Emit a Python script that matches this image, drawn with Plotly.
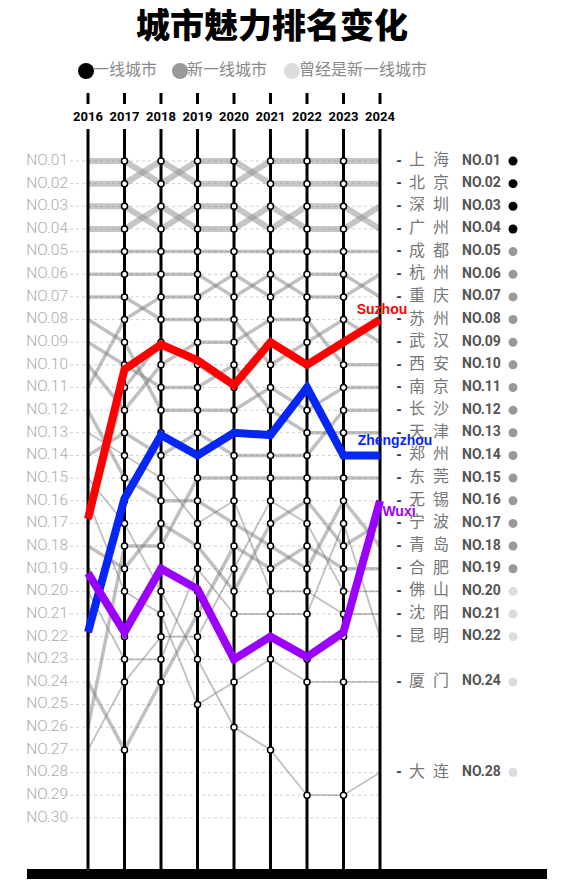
import plotly.graph_objects as go

# ranking by year, index 0 = NO.01 (None = empty place)
years = [2016, 2017, 2018, 2019, 2020, 2021, 2022, 2023, 2024]

r2016 = ["北京", "上海", "广州", "深圳", "成都", "杭州", "武汉", "南京", "天津", "西安",
         "重庆", "青岛", "沈阳", "长沙", "大连", "厦门", "苏州", "宁波", "无锡", "昆明",
         None, "郑州", None, "合肥", None, "东莞", "佛山"]
r2017 = ["北京", "上海", "广州", "深圳", "成都", "杭州", "武汉", "重庆", "南京", "天津",
         "苏州", "西安", "长沙", "沈阳", "青岛", "郑州", "大连", "东莞", "宁波", "厦门",
         None, "无锡", "昆明", "佛山", None, None, "合肥"]
r2018 = ["上海", "北京", "深圳", "广州", "成都", "杭州", "重庆", "武汉", "苏州", "西安",
         "天津", "南京", "郑州", "长沙", "沈阳", "青岛", "宁波", "东莞", "无锡", "大连",
         "厦门", "佛山", "昆明", "合肥"]
r2019 = ["北京", "上海", "广州", "深圳", "成都", "杭州", "重庆", "武汉", "西安", "苏州",
         "天津", "南京", "长沙", "郑州", "东莞", "青岛", "沈阳", "宁波", "昆明", "无锡",
         "合肥", "佛山", "大连", None, "厦门"]
r2020 = ["北京", "上海", "广州", "深圳", "成都", "重庆", "杭州", "武汉", "西安", "天津",
         "苏州", "南京", "郑州", "长沙", "东莞", "沈阳", "青岛", "合肥", "佛山", "宁波",
         "昆明", None, "无锡", "厦门", None, "大连"]
r2021 = ["上海", "北京", "深圳", "广州", "成都", "杭州", "重庆", "西安", "苏州", "武汉",
         "南京", "天津", "郑州", "长沙", "东莞", "佛山", "宁波", "青岛", "合肥", "沈阳",
         "昆明", "无锡", "厦门", None, None, None, "大连"]
r2022 = ["上海", "北京", "广州", "深圳", "成都", "重庆", "杭州", "西安", "武汉", "苏州",
         "郑州", "南京", "天津", "长沙", "东莞", "宁波", "佛山", "合肥", "青岛", "沈阳",
         "昆明", None, "无锡", "厦门", None, None, None, None, "大连"]
r2023 = ["上海", "北京", "广州", "深圳", "成都", "重庆", "杭州", "武汉", "苏州", "西安",
         "南京", "长沙", "天津", "郑州", "东莞", "青岛", "昆明", "宁波", "合肥", "佛山",
         "沈阳", "无锡", None, "厦门", None, None, None, None, "大连"]
r2024 = ["上海", "北京", "深圳", "广州", "成都", "杭州", "重庆", "苏州", "武汉", "西安",
         "南京", "长沙", "天津", "郑州", "东莞", "无锡", "宁波", "青岛", "合肥", "佛山",
         "沈阳", "昆明", None, "厦门", None, None, None, "大连"]
rankings = [r2016, r2017, r2018, r2019, r2020, r2021, r2022, r2023, r2024]

# hand drawn highlight lines
suzhou_hl = [16.8, 10.2, 9.1, 9.8, 10.9, 9.0, 10.0, 9.0, 8.0]
zhengzhou_hl = [21.8, 15.9, 13.1, 14.0, 13.0, 13.1, 11.0, 14.0, 14.0]
wuxi_hl = [19.2, 21.8, 19.0, 19.9, 23.0, 22.0, 22.9, 21.8, 16.0]

legend_names = ["一线城市", "新一线城市", "曾经是新一线城市"]
tier_colors = ["#000000", "#999999", "#dcdcdc"]
n_ranks = 30

# pixel helpers (figure = 562 x 896, plot area is the whole figure)
W, H = 562, 896
DX, DY = 36.5, 22.65
def px_x(p):
    return 2016 + (p - 88) / DX
def px_y(p):
    return 1 + (p - 161) / DY

def tier(rank):
    if rank <= 4:
        return 0
    if rank <= 19:
        return 1
    return 2

# city trajectories
cities = [c for c in r2024 if c]
paths = {c: [] for c in cities}
for yr, lst in zip(years, rankings):
    for i, c in enumerate(lst):
        if c in paths:
            paths[c].append((yr, i + 1))

fig = go.Figure()

# dotted grid lines
gx, gy = [], []
for r in range(1, n_ranks + 1):
    gx += [px_x(70), 2024, None]
    gy += [r, r, None]
fig.add_trace(go.Scatter(x=gx, y=gy, mode="lines",
                         line=dict(color="#cfcfcf", width=1, dash="dot"), hoverinfo="skip"))

# gray city lines
line_style = {0: (6, "rgba(150,150,150,0.55)"),
              1: (3.5, "rgba(115,115,115,0.45)"),
              2: (1.8, "rgba(115,115,115,0.45)")}
for c in cities:
    t = tier(r2024.index(c) + 1)
    w, col = line_style[t]
    fig.add_trace(go.Scatter(x=[p[0] for p in paths[c]], y=[p[1] for p in paths[c]],
                             mode="lines", line=dict(color=col, width=w), name=c))

# year vertical lines
vx, vy = [], []
for yr in years:
    vx += [yr, yr, None, yr, yr, None]
    vy += [px_y(93), px_y(104), None, px_y(129), px_y(872), None]
fig.add_trace(go.Scatter(x=vx, y=vy, mode="lines", line=dict(color="black", width=3),
                         hoverinfo="skip"))

# node markers
nx, ny = [], []
for yr, lst in zip(years[1:-1], rankings[1:-1]):
    for i, c in enumerate(lst):
        if c:
            nx.append(yr)
            ny.append(i + 1)
fig.add_trace(go.Scatter(x=nx, y=ny, mode="markers",
                         marker=dict(size=6, color="white", line=dict(color="black", width=1.5))))

# highlight lines
for vals, col in [(suzhou_hl, "#ff0000"), (zhengzhou_hl, "#0526f5"), (wuxi_hl, "#9b00ff")]:
    fig.add_trace(go.Scatter(x=years, y=vals, mode="lines",
                             line=dict(color=col, width=8)))

fig.add_trace(go.Scatter(x=[px_x(382), px_x(395), px_x(399)], y=[px_y(310), px_y(441), px_y(512)],
                         mode="text", text=["Suzhou", "Zhengzhou", "Wuxi"],
                         textfont=dict(family="Liberation Sans", size=14,
                                       color=["#ff0000", "#0526f5", "#9b00ff"], weight="bold")))

# year labels
fig.add_trace(go.Scatter(x=years, y=[px_y(118)] * len(years), mode="text",
                         text=[str(y) for y in years],
                         textfont=dict(family="Roboto", size=13, color="black", weight="bold")))

# left rank labels
ranks = list(range(1, n_ranks + 1))
fig.add_trace(go.Scatter(x=[px_x(68)] * n_ranks, y=ranks, mode="text",
                         text=["NO.%02d" % r for r in ranks], textposition="middle left",
                         textfont=dict(family="Roboto", size=15.5, color="#ababab", weight=300)))

# right labels for 2024
rr = [i + 1 for i, c in enumerate(r2024) if c]
rc = [c for c in r2024 if c]
fig.add_trace(go.Scatter(x=[px_x(399)] * len(rr), y=rr, mode="text", text=["-"] * len(rr),
                         textfont=dict(family="Liberation Sans", size=15, color="#333333",
                                       weight="bold")))
fig.add_trace(go.Scatter(x=[px_x(409)] * len(rr), y=rr, mode="text",
                         text=[c[0] + "\u2002" + c[1] for c in rc], textposition="middle right",
                         textfont=dict(family="Noto Sans CJK SC", size=16, color="#777777")))
fig.add_trace(go.Scatter(x=[px_x(462)] * len(rr), y=rr, mode="text",
                         text=["NO.%02d" % r for r in rr], textposition="middle right",
                         textfont=dict(family="Roboto", size=14, color="#555555", weight="bold")))
fig.add_trace(go.Scatter(x=[px_x(513)] * len(rr), y=rr, mode="markers",
                         marker=dict(size=9, color=[tier_colors[tier(r)] for r in rr])))

# legend
lx = [86, 180, 292]
fig.add_trace(go.Scatter(x=[px_x(p) for p in lx], y=[px_y(71)] * 3, mode="markers",
                         marker=dict(size=16, color=tier_colors)))
fig.add_trace(go.Scatter(x=[px_x(p + 7) for p in lx], y=[px_y(71)] * 3, mode="text",
                         text=legend_names, textposition="middle right",
                         textfont=dict(family="Noto Sans CJK SC", size=16, color="#8a8a8a")))

fig.add_annotation(text="城市魅力排名变化", x=272 / W, y=1 - 23 / H, xref="paper", yref="paper",
                   xanchor="center", yanchor="middle", showarrow=False, borderpad=0,
                   font=dict(family="Noto Sans CJK SC", size=34, color="black", weight=900))

fig.add_shape(type="rect", xref="paper", yref="paper", x0=27 / W, x1=547 / W,
              y0=1 - 879 / H, y1=1 - 869 / H, fillcolor="black", line_width=0)

fig.update_layout(width=W, height=H, margin=dict(l=0, r=0, t=0, b=0, pad=0),
                  plot_bgcolor="white", paper_bgcolor="white", showlegend=False,
                  xaxis=dict(range=[px_x(0), px_x(W)], visible=False, fixedrange=True),
                  yaxis=dict(range=[px_y(H), px_y(0)], visible=False, fixedrange=True))

fig.write_html("out.html", config={"displayModeBar": False},
               post_script="document.body.style.margin='0';")
